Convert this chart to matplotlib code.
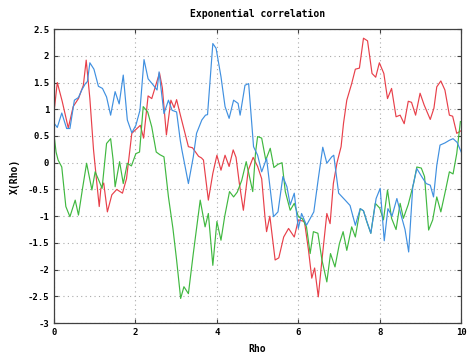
import numpy as np
import matplotlib
matplotlib.use('Agg')
import matplotlib.pyplot as plt

# values
red_x = [0.0, 0.08, 0.2, 0.35, 0.47, 0.6, 0.72, 0.79, 0.88, 0.97, 1.04, 1.11, 1.15, 1.22, 1.31,
         1.42, 1.54, 1.68, 1.78, 1.91, 2.12, 2.2, 2.31, 2.4, 2.59, 2.66, 2.76, 2.87, 2.95, 3.01,
         3.1, 3.2, 3.3, 3.4, 3.55, 3.62, 3.67, 3.79, 3.9, 4.0, 4.1, 4.2, 4.3, 4.4, 4.47, 4.55,
         4.65, 4.77, 4.89, 5.0, 5.1, 5.18, 5.22, 5.3, 5.43, 5.52, 5.64, 5.76, 5.9, 6.0, 6.15,
         6.25, 6.33, 6.4, 6.49, 6.58, 6.7, 6.78, 6.86, 6.95, 7.05, 7.11, 7.19, 7.31, 7.4, 7.5,
         7.6, 7.7, 7.81, 7.9, 7.99, 8.1, 8.19, 8.29, 8.4, 8.5, 8.6, 8.7, 8.78, 8.88, 8.99, 9.09,
         9.24, 9.33, 9.4, 9.5, 9.6, 9.71, 9.79, 9.89, 10.0]
red_y = [0.95, 1.5, 1.15, 0.65, 1.05, 1.2, 1.45, 1.92, 1.2, 0.24, -0.3, -0.82, -0.48, -0.38, -0.92,
         -0.6, -0.5, -0.57, -0.3, 0.55, 0.7, 0.46, 1.25, 1.2, 1.68, 1.4, 0.52, 1.17, 1.03, 1.18,
         0.9, 0.6, 0.3, 0.28, 0.12, 0.09, 0.05, -0.7, -0.2, 0.14, -0.14, 0.14, -0.07, 0.24, 0.1, -0.38,
         -0.89, -0.14, 0.1, -0.07, -0.3, -1.01, -1.29, -1.0, -1.82, -1.78, -1.39, -1.23, -1.39, -1.07, -1.1,
         -1.64, -2.16, -1.97, -2.51, -1.82, -0.95, -1.14, -0.39, 0.0, 0.3, 0.74, 1.17, 1.48, 1.75, 1.77,
         2.33, 2.28, 1.67, 1.6, 1.87, 1.67, 1.2, 1.39, 0.86, 0.89, 0.73, 1.15, 1.13, 0.89, 1.3, 1.08,
         0.81, 1.02, 1.42, 1.53, 1.36, 0.89, 0.87, 0.55, 0.6]

green_x = [0.0, 0.05, 0.1, 0.19, 0.29, 0.39, 0.52, 0.6, 0.7, 0.8, 0.93, 1.01, 1.1, 1.18, 1.29,
           1.39, 1.45, 1.5, 1.61, 1.7, 1.8, 1.9, 2.01, 2.1, 2.19, 2.3, 2.4, 2.51, 2.6, 2.7, 2.81,
           2.92, 3.01, 3.11, 3.19, 3.3, 3.42, 3.59, 3.71, 3.79, 3.9, 4.0, 4.1, 4.19, 4.31, 4.41,
           4.5, 4.61, 4.72, 4.8, 4.88, 4.95, 5.0, 5.1, 5.2, 5.31, 5.4, 5.5, 5.6, 5.68, 5.8, 5.9,
           6.0, 6.1, 6.2, 6.29, 6.37, 6.48, 6.58, 6.7, 6.79, 6.9, 7.01, 7.1, 7.19, 7.31, 7.4, 7.52,
           7.6, 7.68, 7.78, 7.89, 8.0, 8.09, 8.19, 8.29, 8.4, 8.5, 8.58, 8.7, 8.83, 8.91, 9.02, 9.1,
           9.2, 9.3, 9.4, 9.5, 9.6, 9.71, 9.8, 9.89, 9.98]
green_y = [0.52, 0.2, 0.05, -0.08, -0.82, -1.01, -0.7, -0.98, -0.48, -0.01, -0.51, -0.17, -0.33, -0.48, 0.36,
           0.45, 0.06, -0.45, 0.02, -0.39, -0.01, -0.06, 0.17, 0.2, 1.05, 0.95, 0.67, 0.2, 0.15, 0.11, -0.64,
           -1.23, -1.82, -2.54, -2.32, -2.45, -1.7, -0.7, -1.2, -0.95, -1.92, -1.1, -1.45, -1.01, -0.54, -0.64,
           -0.55, -0.33, 0.02, -0.26, -0.54, 0.2, 0.49, 0.46, 0.05, 0.27, -0.09, -0.03, 0.0, -0.54, -0.89, -0.76,
           -1.01, -1.05, -1.2, -1.7, -1.29, -1.32, -1.82, -2.23, -1.7, -1.95, -1.51, -1.29, -1.64, -1.2, -1.39, -0.86,
           -0.9, -1.1, -1.32, -0.76, -0.85, -1.07, -0.51, -1.04, -1.25, -0.76, -1.04, -0.78, -0.39, -0.08, -0.1, -0.26,
           -1.26, -1.07, -0.64, -0.92, -0.57, -0.17, -0.21, 0.17, 0.77]

blue_x = [0.0, 0.08, 0.19, 0.31, 0.39, 0.5, 0.6, 0.68, 0.77, 0.82, 0.88, 0.98, 1.09, 1.19, 1.29,
          1.39, 1.5, 1.6, 1.7, 1.8, 1.91, 2.01, 2.11, 2.21, 2.31, 2.44, 2.53, 2.58, 2.7, 2.81, 2.9,
          3.01, 3.1, 3.14, 3.3, 3.42, 3.5, 3.63, 3.72, 3.77, 3.9, 3.98, 4.1, 4.2, 4.3, 4.41, 4.52,
          4.57, 4.69, 4.78, 4.9, 5.0, 5.1, 5.22, 5.39, 5.5, 5.62, 5.72, 5.8, 5.9, 6.0, 6.08, 6.2,
          6.38, 6.49, 6.6, 6.7, 6.82, 6.87, 6.99, 7.15, 7.27, 7.4, 7.52, 7.6, 7.67, 7.78, 7.91, 8.01,
          8.11, 8.2, 8.3, 8.42, 8.53, 8.62, 8.71, 8.81, 8.91, 9.03, 9.14, 9.24, 9.32, 9.4, 9.48, 9.6,
          9.71, 9.8, 9.9, 10.0]
blue_y = [0.74, 0.66, 0.93, 0.64, 0.64, 1.17, 1.22, 1.36, 1.48, 1.52, 1.87, 1.75, 1.43, 1.39, 1.23,
          0.89, 1.33, 1.1, 1.64, 0.8, 0.56, 0.7, 0.98, 1.93, 1.57, 1.45, 1.36, 1.7, 0.92, 1.17, 0.98,
          0.95, 0.42, 0.24, -0.39, 0.11, 0.55, 0.8, 0.89, 0.9, 2.23, 2.14, 1.61, 1.05, 0.83, 1.17, 1.11,
          0.89, 1.45, 1.48, 0.3, 0.14, -0.17, 0.08, -1.01, -0.92, -0.26, -0.45, -0.79, -0.57, -1.23, -0.95, -1.17,
          -0.92, -0.3, 0.29, -0.01, 0.11, 0.14, -0.57, -0.7, -0.8, -1.17, -0.86, -0.9, -1.07, -1.32, -0.67, -0.48,
          -1.46, -0.86, -1.0, -0.67, -1.0, -1.25, -1.67, -0.45, -0.11, -0.26, -0.39, -0.42, -0.64, -0.05, 0.33, 0.37,
          0.42, 0.45, 0.38, 0.2]

x_ticks = [0, 2, 4, 6, 8, 10]
y_ticks = [-3, -2.5, -2, -1.5, -1, -0.5, 0, 0.5, 1, 1.5, 2, 2.5]

plt.rcParams['font.family'] = 'DejaVu Sans Mono'
plt.rcParams['font.weight'] = 'bold'

fig = plt.figure(figsize=(4.74, 3.55), dpi=100)
ax = fig.add_axes([0.114, 0.09, 0.859, 0.828])

ax.plot(red_x, red_y, color='#e8404a', lw=0.85)
ax.plot(green_x, green_y, color='#40b840', lw=0.85)
ax.plot(blue_x, blue_y, color='#4090e0', lw=0.85)

ax.set_xlim(0, 10)
ax.set_ylim(-3, 2.5)
ax.set_xticks(x_ticks)
ax.set_yticks(y_ticks)
ax.set_xticklabels([str(t) for t in x_ticks])
ax.set_yticklabels(['%g' % t for t in y_ticks])
ax.tick_params(direction='in', length=3, labelsize=6.5, top=True, right=True, color='#404040')
ax.grid(True, linestyle=(0, (1, 3)), color='#aaaaaa', lw=0.8)

for s in ax.spines.values():
    s.set_color('#404040')
    s.set_linewidth(0.9)

ax.set_title('Exponential correlation', fontsize=7, fontweight='bold', pad=9)
ax.set_xlabel('Rho', fontsize=7, fontweight='bold', labelpad=5)
ax.set_ylabel('X(Rho)', fontsize=7, fontweight='bold')
ax.yaxis.set_label_coords(-0.083, 0.5)

plt.savefig('out.png', dpi=100)
